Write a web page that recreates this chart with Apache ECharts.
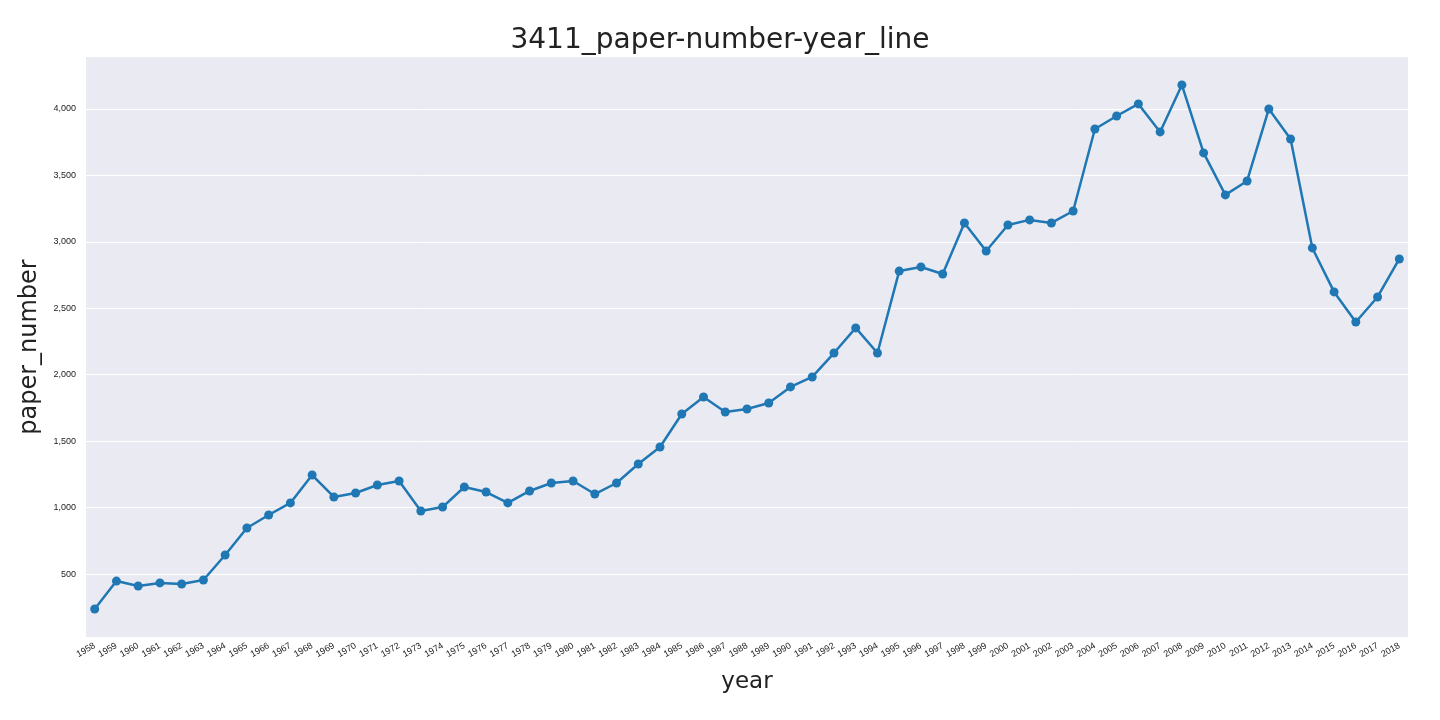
<!DOCTYPE html>
<html><head><meta charset="utf-8">
<script src="https://cdn.jsdelivr.net/npm/echarts@6/dist/echarts.min.js"></script>
<style>html,body{margin:0;padding:0;background:#fff}#c{width:1440px;height:720px}</style>
</head><body><div id="c"></div>
<script>
const years = [];
for (let y = 1958; y <= 2018; y++) years.push(y);
const paperNumber = [237,447,410,433,425,455,643,846,944,1035,1245,1080,1110,1170,1200,974,1004,1155,1117,1035,1125,1185,1200,1102,1185,1328,1456,1704,1832,1719,1742,1787,1908,1983,2163,2352,2163,2780,2811,2758,3142,2931,3127,3165,3142,3232,3849,3947,4038,3827,4181,3669,3353,3458,4000,3774,2954,2623,2397,2585,2871];
const yTicks = [500,1000,1500,2000,2500,3000,3500,4000];
const chart = echarts.init(document.getElementById('c'));
chart.setOption({
  animation:false,
  backgroundColor:'#fff',
  title:{text:'3411_paper-number-year_line',left:'center',top:22,textStyle:{fontFamily:'DejaVu Sans',fontSize:28,fontWeight:'normal',color:'#222'}},
  grid:{left:86,right:32,top:57,bottom:83,show:true,backgroundColor:'#eaeaf2',borderWidth:0},
  xAxis:{type:'value',min:1957.6,max:2018.4,name:'year',nameLocation:'middle',nameGap:34,
    nameTextStyle:{fontFamily:'DejaVu Sans',fontSize:23,color:'#222'},
    axisLine:{show:false},axisTick:{show:false},splitLine:{show:false},
    axisLabel:{customValues:years,rotate:30,fontSize:9,color:'#222',margin:8,formatter:v=>String(v)}},
  yAxis:{type:'value',min:26,max:4391,name:'paper_number',nameLocation:'middle',nameGap:44,
    nameTextStyle:{fontFamily:'DejaVu Sans',fontSize:24,color:'#222'},
    axisLine:{show:false},axisTick:{show:false,customValues:yTicks},
    splitLine:{show:true,lineStyle:{color:'#fff',width:1}},
    axisLabel:{customValues:yTicks,fontSize:9,color:'#222',margin:10}},
  series:[{type:'line',data:years.map((y,i)=>[y,paperNumber[i]]),
    symbol:'circle',symbolSize:9,lineStyle:{color:'#1f77b4',width:2.5},itemStyle:{color:'#1f77b4'}}]
});
</script></body></html>
